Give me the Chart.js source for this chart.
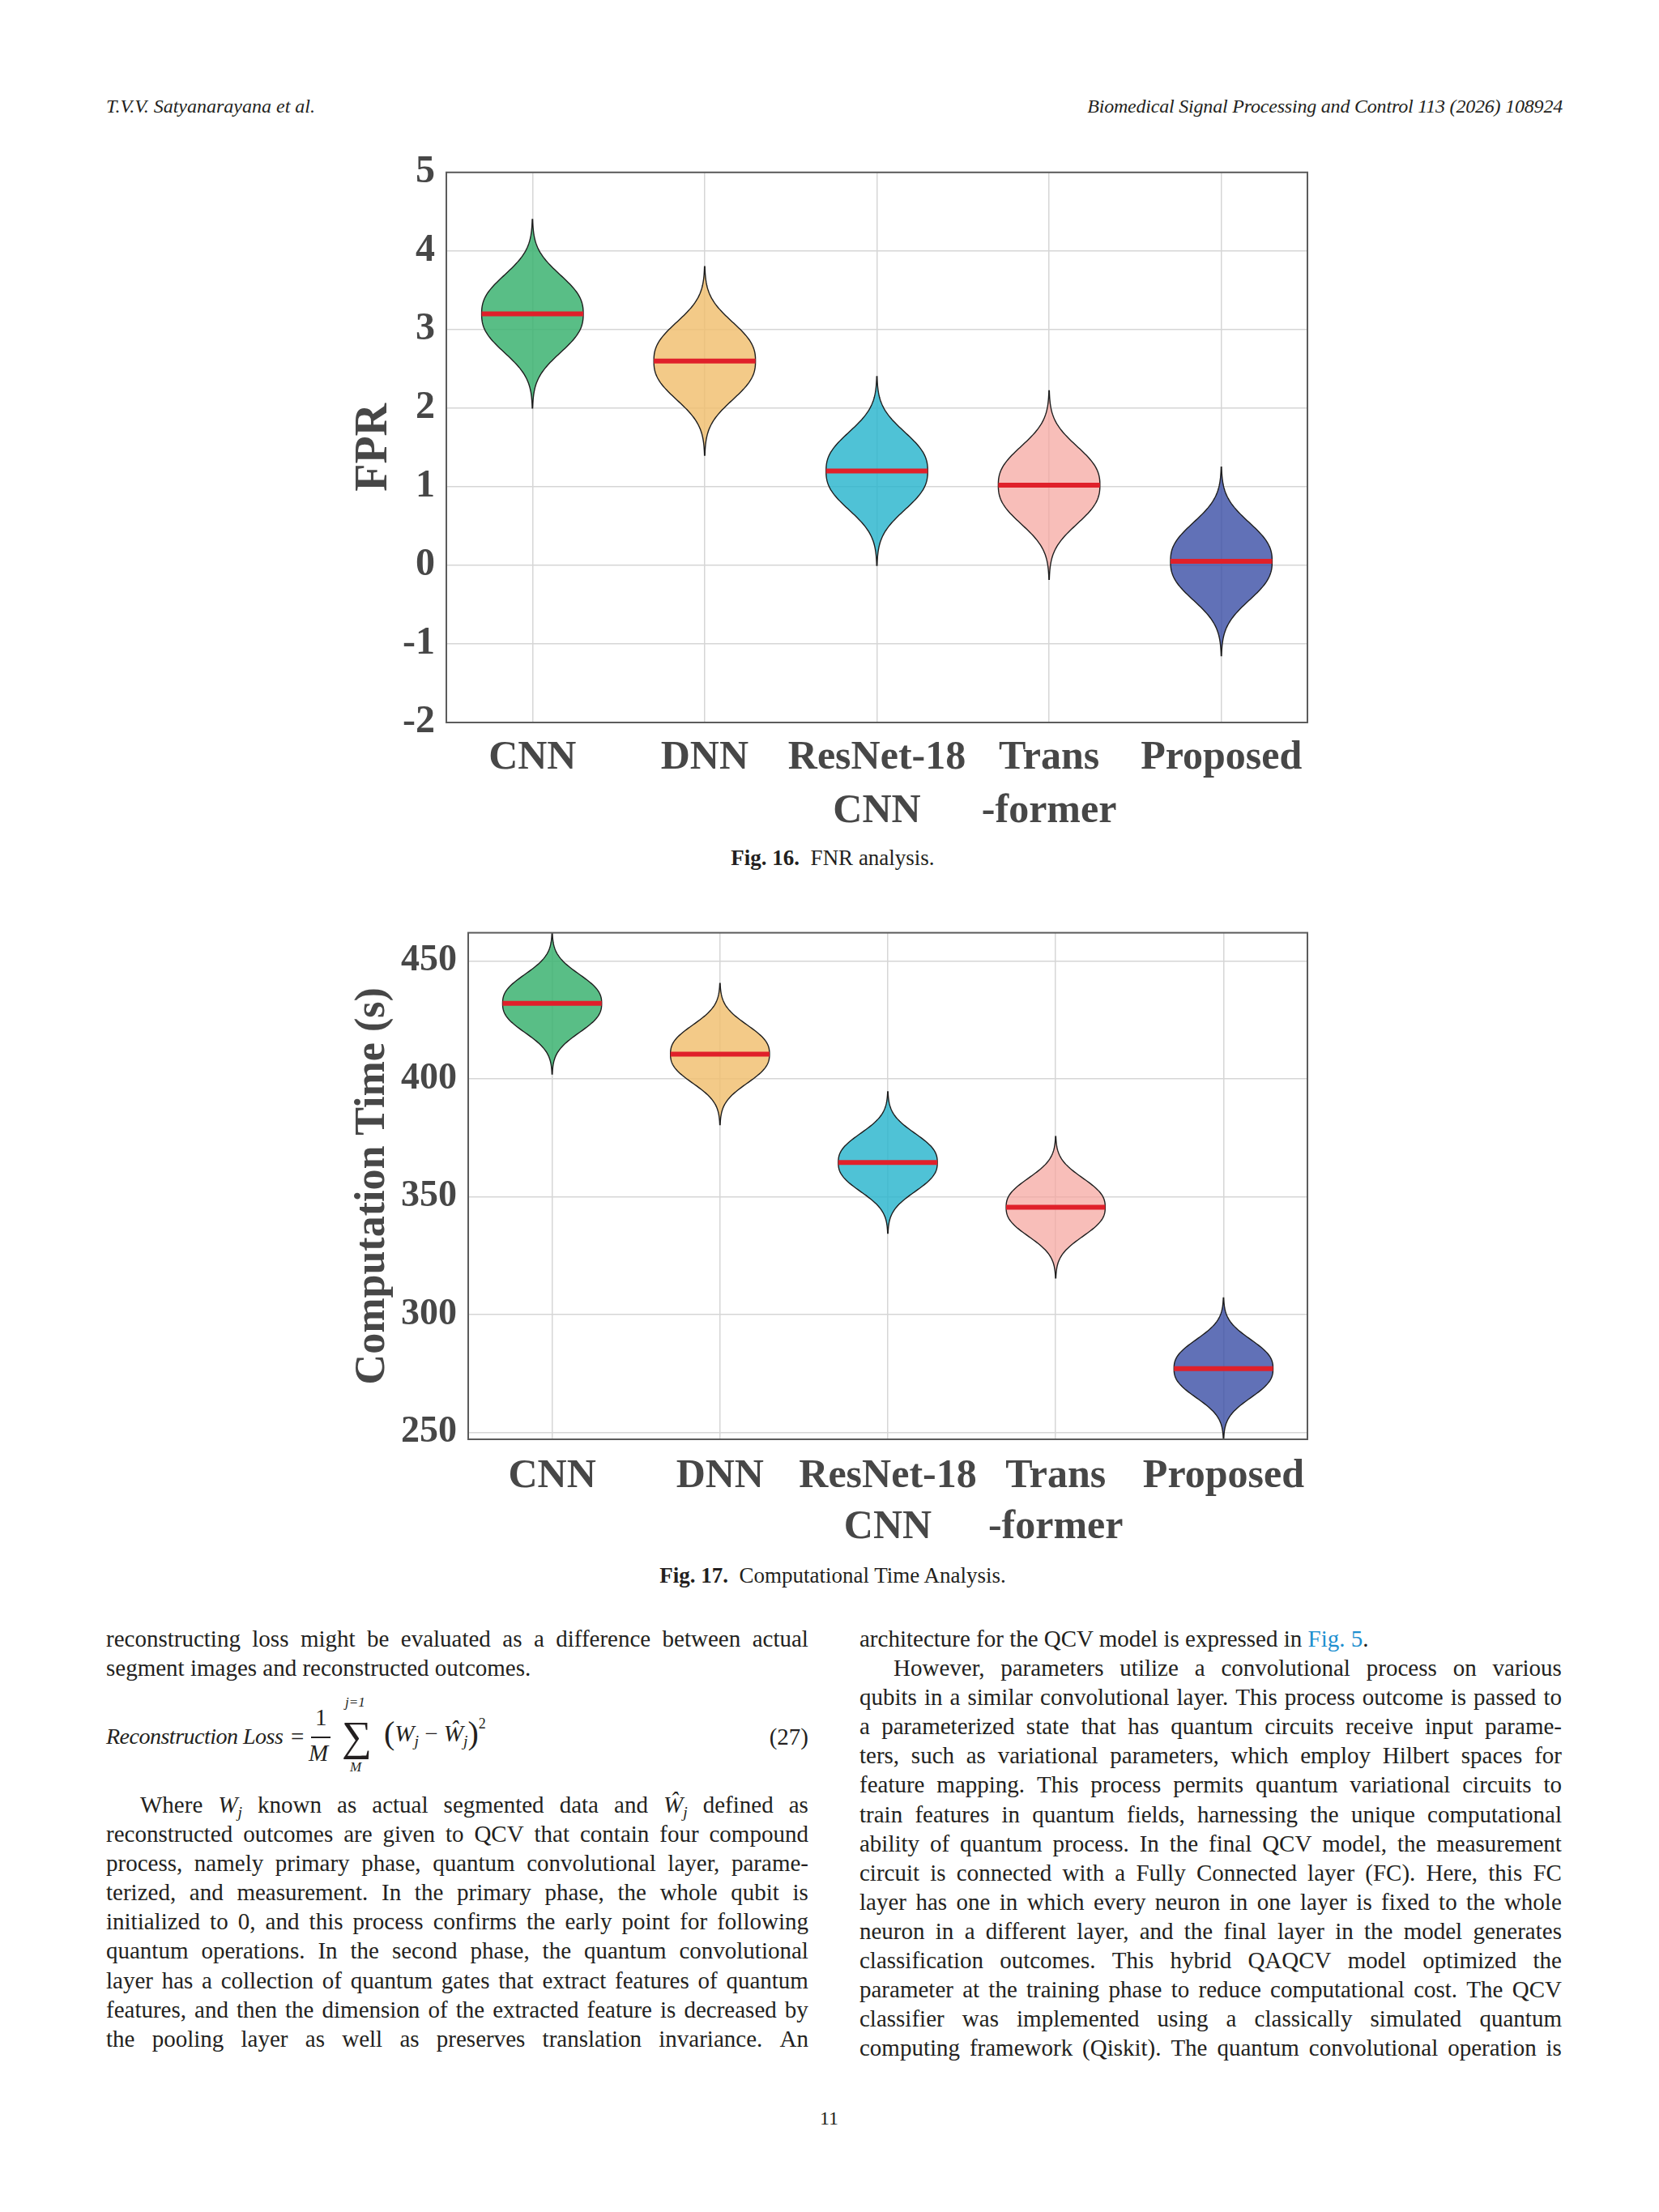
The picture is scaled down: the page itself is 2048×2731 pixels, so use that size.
<!DOCTYPE html>
<html>
<head>
<meta charset="utf-8">
<script src="https://cdn.jsdelivr.net/npm/chart.js@4.4.1/dist/chart.umd.min.js"></script>
<style>
html, body { margin: 0; padding: 0; background: #fff; }
body { width: 2048px; height: 2731px; position: relative; overflow: hidden;
       font-family: "Liberation Serif", serif; color: #231f20; }
.abs { position: absolute; white-space: nowrap; }
.hdr { font-style: italic; font-size: 24px; top: 118px; }
.cap { font-size: 27px; width: 2048px; left: 4px; text-align: center; }
.col { position: absolute; width: 867px; font-size: 29px; line-height: 36.1px; }
.ln { display: flex; justify-content: space-between; white-space: nowrap; height: 36.1px; }
.ln.last { display: block; }
.ind { padding-left: 42px; }
.lnk { color: #1d8fcf; }
sub { font-size: 0.68em; vertical-align: -0.3em; line-height: 0; font-style: italic; }
sup { font-size: 0.62em; vertical-align: 0.9em; line-height: 0; }
.eq { font-size: 29px; font-style: italic; line-height: 36px; }
.up { font-style: normal; }
.box { position: absolute; }
</style>
</head>
<body>

<div class="abs hdr" style="left:131px;">T.V.V. Satyanarayana et al.</div>
<div class="abs hdr" style="right:119px; letter-spacing:-0.2px;">Biomedical Signal Processing and Control 113 (2026) 108924</div>

<div class="box" style="left:400px; top:170px; width:1240px; height:872px;"><canvas id="fpr"></canvas></div>
<div class="abs cap" style="top:1044px;"><b>Fig. 16.</b>&nbsp; FNR analysis.</div>

<div class="box" style="left:400px; top:1110px; width:1240px; height:817px;"><canvas id="time"></canvas></div>
<div class="abs cap" style="top:1930px;"><b>Fig. 17.</b>&nbsp; Computational Time Analysis.</div>

<div class="col" id="leftTop" style="left:131px; top:2005px;"></div>

<div class="abs eq" style="left:131px; top:2126px; font-size:28px; letter-spacing:-0.5px;">Reconstruction Loss</div>
<div class="abs eq up" style="left:359px; top:2126px;">=</div>
<div class="abs eq up" style="left:389px; top:2102px;">1</div>
<div class="abs" style="left:384px; top:2144px; width:24px; height:2px; background:#231f20;"></div>
<div class="abs eq" style="left:381px; top:2146px;">M</div>
<div class="abs" style="left:426px; top:2092px; font-size:17px; font-style:italic;">j=1</div>
<div class="abs" style="left:422px; top:2118px; font-size:52px; line-height:52px;">&sum;</div>
<div class="abs" style="left:432px; top:2172px; font-size:17px; font-style:italic;">M</div>
<div class="abs eq" style="left:474px; top:2122px;"><span class="up" style="font-size:40px; vertical-align:-3px;">(</span>W<sub>j</sub> <span class="up">&minus;</span> &#372;<sub>j</sub><span class="up" style="font-size:40px; vertical-align:-3px;">)</span><sup class="up">2</sup></div>
<div class="abs eq up" style="right:1050px; top:2126px;">(27)</div>

<div class="col" id="leftPara" style="left:131px; top:2210px;"></div>
<div class="col" id="rightCol" style="left:1061px; top:2005px;"></div>

<div class="abs" style="left:1012px; top:2602px; font-size:24px;">11</div>

<script>
// ---- chart data ----
const categories = ['CNN', 'DNN', ['ResNet-18', 'CNN'], ['Trans', '-former'], 'Proposed'];

const fprMedian = [3.2, 2.6, 1.2, 1.02, 0.05];
const fprMin    = [2.0, 1.4, 0.0, -0.18, -1.15];
const fprMax    = [4.4, 3.8, 2.4, 2.22, 1.25];
const fprTicks  = [-2, -1, 0, 1, 2, 3, 4, 5];

const timeMedian = [432, 410.5, 364.5, 345.5, 277];
const timeMin    = [402, 380.5, 334.5, 315.5, 247];
const timeMax    = [462, 440.5, 394.5, 375.5, 307];
const timeTicks  = [250, 300, 350, 400, 450];

const violinColors = [
    'rgba(60,179,113,0.85)',
    'rgba(240,190,110,0.82)',
    'rgba(40,180,205,0.82)',
    'rgba(245,165,158,0.72)',
    'rgba(58,78,165,0.8)'
];

const serif = 'Liberation Serif';
const textGrey = '#474747';
const gridGrey = '#d6d6d6';

// draws one violin per category, using the chart's own scales
const violinPlugin = {
    id: 'violin',
    afterDatasetsDraw(chart, args, opts) {
        const ctx = chart.ctx;
        const x = chart.scales.x, y = chart.scales.y;
        const half = (x.getPixelForValue(1) - x.getPixelForValue(0)) * opts.widthFrac / 2;
        const N = 120;
        opts.medians.forEach((m, i) => {
            const cx = x.getPixelForValue(i);
            const lo = opts.mins[i], hi = opts.maxs[i];
            const side = (v) => {
                const r = v >= m ? (v - m) / (hi - m) : (m - v) / (m - lo);
                return half * Math.exp(-5.5 * Math.pow(r, 2.5));
            };
            ctx.save();
            ctx.beginPath();
            for (let k = 0; k <= N; k++) {
                const v = hi - (hi - lo) * k / N;
                const px = cx + side(v), py = y.getPixelForValue(v);
                if (k === 0) ctx.moveTo(px, py); else ctx.lineTo(px, py);
            }
            for (let k = N; k >= 0; k--) {
                const v = hi - (hi - lo) * k / N;
                ctx.lineTo(cx - side(v), y.getPixelForValue(v));
            }
            ctx.closePath();
            ctx.fillStyle = opts.colors[i];
            ctx.fill();
            ctx.lineWidth = 1.4;
            ctx.strokeStyle = '#1e1e1e';
            ctx.stroke();

            const ym = y.getPixelForValue(m);
            ctx.beginPath();
            ctx.moveTo(cx - half, ym);
            ctx.lineTo(cx + half, ym);
            ctx.lineWidth = 6;
            ctx.strokeStyle = '#e0202a';
            ctx.stroke();
            ctx.restore();
        });
    }
};

const framePlugin = {
    id: 'frame',
    afterDraw(chart) {
        const { ctx, chartArea: a } = chart;
        ctx.save();
        ctx.strokeStyle = '#5c5c5c';
        ctx.lineWidth = 2;
        ctx.strokeRect(a.left, a.top, a.right - a.left, a.bottom - a.top);
        ctx.restore();
    }
};

function makeViolinChart(id, cfg) {
    return new Chart(document.getElementById(id), {
        type: 'line',
        data: {
            labels: categories,
            datasets: [{ data: cfg.medians, showLine: false, pointRadius: 0 }]
        },
        options: {
            responsive: true,
            maintainAspectRatio: false,
            devicePixelRatio: 1,
            animation: false,
            layout: { padding: { top: cfg.padTop, right: 26, left: 0, bottom: 0 } },
            plugins: {
                legend: { display: false },
                tooltip: { enabled: false },
                violin: { medians: cfg.medians, mins: cfg.mins, maxs: cfg.maxs,
                          colors: violinColors, widthFrac: 0.59 }
            },
            scales: {
                x: {
                    offset: true,
                    grid: { offset: false, color: gridGrey, lineWidth: 1.5, drawTicks: false },
                    border: { display: false },
                    ticks: {
                        padding: cfg.xPad, color: textGrey, maxRotation: 0, autoSkip: false,
                        font: { family: serif, weight: 'bold', size: 50, lineHeight: cfg.xLine }
                    },
                    afterFit: (s) => { s.height = 150; }
                },
                y: {
                    min: cfg.min,
                    max: cfg.max,
                    afterBuildTicks: (s) => { s.ticks = cfg.ticks.map(v => ({ value: v })); },
                    afterFit: (s) => { s.width = cfg.yWidth; },
                    grid: { color: gridGrey, lineWidth: 1.5, drawTicks: false },
                    border: { display: false },
                    ticks: {
                        padding: 14, color: textGrey,
                        font: { family: serif, weight: 'bold', size: cfg.tickSize }
                    },
                    title: {
                        display: true, text: cfg.title, color: textGrey,
                        font: { family: serif, weight: 'bold', size: cfg.titleSize, lineHeight: 1.2 },
                        padding: { top: 29, bottom: 0 }
                    }
                }
            }
        },
        plugins: [violinPlugin, framePlugin]
    });
}

makeViolinChart('fpr', {
    medians: fprMedian, mins: fprMin, maxs: fprMax, ticks: fprTicks,
    min: -2, max: 5, title: 'FPR', padTop: 38, yWidth: 151, xPad: 11, xLine: 1.32,
    tickSize: 48, titleSize: 56
});

makeViolinChart('time', {
    medians: timeMedian, mins: timeMin, maxs: timeMax, ticks: timeTicks,
    min: 247, max: 462, title: 'Computation Time (s)', padTop: 40, yWidth: 178, xPad: 15, xLine: 1.26,
    tickSize: 46, titleSize: 52
});

// ---- page text ----
const W = '<i>W</i><sub>j</sub>';
const Wh = '<i>&#372;</i><sub>j</sub>';

const leftTopLines = [
    { t: 'reconstructing loss might be evaluated as a difference between actual' },
    { t: 'segment images and reconstructed outcomes.', last: true }
];

const leftParaLines = [
    { t: 'Where ' + W + ' known as actual segmented data and ' + Wh + ' defined as', indent: true },
    { t: 'reconstructed outcomes are given to QCV that contain four compound' },
    { t: 'process, namely primary phase, quantum convolutional layer, parame-' },
    { t: 'terized, and measurement. In the primary phase, the whole qubit is' },
    { t: 'initialized to 0, and this process confirms the early point for following' },
    { t: 'quantum operations. In the second phase, the quantum convolutional' },
    { t: 'layer has a collection of quantum gates that extract features of quantum' },
    { t: 'features, and then the dimension of the extracted feature is decreased by' },
    { t: 'the pooling layer as well as preserves translation invariance. An' }
];

const rightLines = [
    { t: 'architecture for the QCV model is expressed in <span class="lnk">Fig. 5</span>.', last: true },
    { t: 'However, parameters utilize a convolutional process on various', indent: true },
    { t: 'qubits in a similar convolutional layer. This process outcome is passed to' },
    { t: 'a parameterized state that has quantum circuits receive input parame-' },
    { t: 'ters, such as variational parameters, which employ Hilbert spaces for' },
    { t: 'feature mapping. This process permits quantum variational circuits to' },
    { t: 'train features in quantum fields, harnessing the unique computational' },
    { t: 'ability of quantum process. In the final QCV model, the measurement' },
    { t: 'circuit is connected with a Fully Connected layer (FC). Here, this FC' },
    { t: 'layer has one in which every neuron in one layer is fixed to the whole' },
    { t: 'neuron in a different layer, and the final layer in the model generates' },
    { t: 'classification outcomes. This hybrid QAQCV model optimized the' },
    { t: 'parameter at the training phase to reduce computational cost. The QCV' },
    { t: 'classifier was implemented using a classically simulated quantum' },
    { t: 'computing framework (Qiskit). The quantum convolutional operation is' }
];

function fillColumn(id, lines) {
    const el = document.getElementById(id);
    lines.forEach(l => {
        const d = document.createElement('div');
        d.className = 'ln' + (l.last ? ' last' : '') + (l.indent ? ' ind' : '');
        if (l.last) {
            d.innerHTML = l.t;
        } else {
            l.t.split(' ').forEach(w => {
                const s = document.createElement('span');
                s.innerHTML = w;
                d.appendChild(s);
            });
        }
        el.appendChild(d);
    });
}

fillColumn('leftTop', leftTopLines);
fillColumn('leftPara', leftParaLines);
fillColumn('rightCol', rightLines);
</script>
</body>
</html>
